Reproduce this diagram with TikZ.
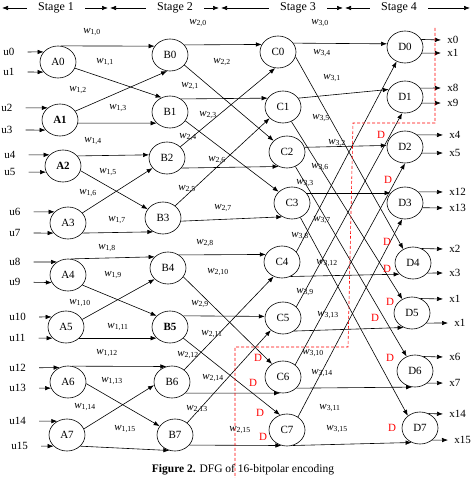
\documentclass[tikz,border=0pt]{standalone}
\usepackage{fontspec}
\setmainfont{Liberation Serif}
\usetikzlibrary{shapes.geometric,arrows.meta}

\newcommand\wt[2]{\textit{w}\textsubscript{#1,#2}}

\tikzset{
  pe/.style={draw, ellipse, minimum width=36pt, minimum height=32pt, inner sep=0pt},
  arr/.style={-{Latex[length=6pt,width=4.5pt]}},
  inarr/.style={arr, shorten <=12pt},
  inl/.style={anchor=west, inner sep=1pt},
  outl/.style={anchor=west, inner sep=6pt},
  wl/.style={inner sep=1pt, font=\fontsize{11}{12}\selectfont},
  dly/.style={text=red, inner sep=1pt},
  bnd/.style={red, densely dashed},
  stg/.style={font=\fontsize{12}{13}\selectfont},
}

\begin{document}
\begin{tikzpicture}[x=1pt,y=-1pt,line width=0.6pt,font=\fontsize{11}{12}\selectfont]
  \useasboundingbox (0,0) rectangle (474,478);

  % stage header
  \node[stg] (s1) at (56,8) {Stage 1};
  \node[stg] (s2) at (175,8) {Stage 2};
  \node[stg] (s3) at (298,8) {Stage 3};
  \node[stg] (s4) at (399,8) {Stage 4};
  \coordinate (b0) at (1,8);
  \coordinate (b1) at (109,8);
  \coordinate (b2) at (220,8);
  \coordinate (b3) at (344,8);
  \coordinate (b4) at (471,8);
  \foreach \s/\l/\r in {s1/b0/b1, s2/b1/b2, s3/b2/b3, s4/b3/b4} {
    \draw[arr, shorten <=8pt, shorten >=1pt] (\s) -- (\l);
    \draw[arr, shorten <=8pt, shorten >=1pt] (\s) -- (\r);
  }

  % nodes
  \foreach \n/\x/\y/\t in {A0/58/62/A0, A1/60/120/\textbf{A1}, A2/63/166/\textbf{A2}, A3/68/223/A3,
      A4/68/275/A4, A5/66/327/A5, A6/68/382/A6, A7/67/435/A7,
      B0/170/55/B0, B1/170/112/B1, B2/167/158/B2, B3/163/218/B3,
      B4/168/268/B4, B5/170/327/\textbf{B5}, B6/172/382/B6, B7/175/435/B7,
      C0/278/52/C0, C1/283/107/C1, C2/287/152/C2, C3/292/203/C3,
      C4/282/262/C4, C5/283/318/C5, C6/283/377/C6, C7/287/430/C7,
      D0/405/47/D0, D1/405/97/D1, D2/405/147/D2, D3/405/203/D3,
      D4/413/263/D4, D5/412/313/D5, D6/415/371/D6, D7/420/428/D7}
    \node[pe] (\n) at (\x,\y) {\t};

  % inputs
  \foreach \i/\x/\y/\a in {0/2/52/A0.145, 1/2/72/A0.215, 2/0/108/A1.135, 3/0/130/A1.215,
      4/3/155/A2.140, 5/3/172/A2.200, 6/8/212/A3.140, 7/8/233/A3.215,
      8/8/262/A4.130, 9/8/282/A4.205, 10/8/317/A5.145, 11/8/338/A5.220,
      12/8/368/A6.120, 13/8/388/A6.200, 14/8/421/A7.125, 15/10/446/A7.220} {
    \node[inl] (u\i) at (\x,\y) {u\i};
    \draw[inarr] (u\i) -- (\a);
  }

  % stage 1
  \foreach \a/\b in {A0.80/B0.150, A0.-20/B1.120, A1.30/B0.260, A1.-10/B1.220,
      A2.35/B2.170, A2.-15/B3.150, A3.35/B2.215, A3.-35/B3.235,
      A4.80/B4.140, A4.-35/B5.140, A5.25/B4.220, A5.-40/B5.220,
      A6.75/B6.110, A6.-5/B7.150, A7.20/B6.190, A7.-40/B7.250}
    \draw[arr] (\a) -- (\b);

  % stage 2
  \foreach \a/\b in {B0.35/C0.155, B0.-35/C2.140, B1.50/C1.150, B1.-30/C3.140,
      B2.40/C0.260, B2.-35/C2.240, B3.45/C1.220, B3.-10/C3.235,
      B4.50/C4.155, B4.-30/C6.130, B5.40/C5.175, B5.-40/C7.115,
      B6.45/C4.240, B6.-40/C6.260, B7.45/C5.225, B7.-35/C7.250}
    \draw[arr] (\a) -- (\b);

  % stage 3
  \foreach \a/\b in {C0.30/D0.170, C0.-15/D4.125, C1.30/D1.155, C1.-60/D5.125,
      C2.15/D2.175, C2.-60/D6.120, C3.35/D3.145, C3.-60/D7.135,
      C4.35/D0.240, C4.-60/D4.220, C5.40/D1.260, C5.-50/D5.240,
      C6.45/D2.270, C6.-40/D6.260, C7.50/D3.260, C7.-70/D7.240}
    \draw[arr] (\a) -- (\b);

  % outputs
  \foreach \i/\t/\x/\y/\s in {1/x0/441/40/D0.25, 2/x1/441/53/D0.-20, 3/x8/441/88/D1.30, 4/x9/441/103/D1.-20,
      5/x4/443/135/D2.45, 6/x5/443/153/D2.-20, 7/x12/443/192/D3.40, 8/x13/443/208/D3.-15,
      9/x2/443/249/D4.60, 10/x3/443/273/D4.-35, 11/x1/443/299/D5.60, 12/x1/448/323/D5.-35,
      13/x6/443/357/D6.60, 14/x7/443/383/D6.-45, 15/x14/443/414/D7.60, 16/x15/448/440/D7.-45} {
    \node[outl] (o\i) at (\x,\y) {\t};
    \draw[arr] (\s) -- (o\i.west);
  }

  % weights
  \foreach \s/\k/\x/\y in {1/0/92/32, 1/1/105/62, 1/2/78/90, 1/3/118/108, 1/4/93/141, 1/5/108/172,
      1/6/88/193, 1/7/117/220, 1/8/107/248, 1/9/113/275, 1/10/80/303, 1/11/118/327,
      1/12/107/353, 1/13/112/381, 1/14/85/407, 1/15/125/429,
      2/0/198/23, 2/2/222/62, 2/1/190/86, 2/3/208/115, 2/4/188/137, 2/6/217/160,
      2/5/187/189, 2/7/223/208, 2/8/205/243, 2/10/218/272, 2/9/200/304, 2/11/212/334,
      2/12/188/355, 2/14/213/378, 2/13/197/409, 2/15/240/430,
      3/0/320/23, 3/4/322/53, 3/1/332/78, 3/5/321/118, 3/2/337/143, 3/6/320/167,
      3/3/305/183, 3/7/322/220, 3/8/300/236, 3/12/327/263, 3/9/305/292, 3/13/328/315,
      3/10/313/353, 3/14/322/373, 3/11/330/408, 3/15/337/429}
    \node[wl] (w\s-\k) at (\x,\y) {\wt{\s}{\k}};

  % delays
  \draw[bnd] (435,28) -- (435,123) -- (353,123) -- (348,347) -- (235,347) -- (235,478);
  \foreach \x/\y [count=\i] in {381/135, 388/180, 387/242, 387/269, 390/302, 375/318,
      390/358, 392/428, 258/358, 253/383, 260/413, 263/437}
    \node[dly] (d\i) at (\x,\y) {D};

  \node[font=\fontsize{11.5}{13}\selectfont] (cap) at (243,470) {\textbf{Figure 2.} DFG of 16-bitpolar encoding};
\end{tikzpicture}
\end{document}
